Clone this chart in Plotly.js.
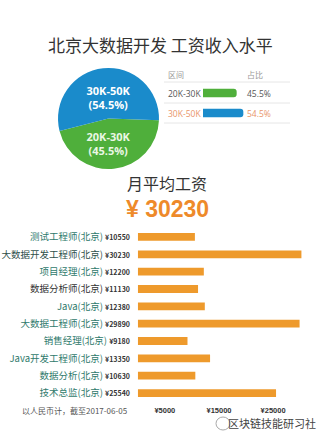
<!DOCTYPE html>
<html>
<head>
<meta charset="utf-8">
<script src="https://cdn.plot.ly/plotly-3.0.1.min.js"></script>
<style>html,body{margin:0;padding:0;background:#fff;}#chart{width:326px;height:434px;}</style>
</head>
<body>
<div id="chart"></div>
<script>
// Salary range split (pie + mini legend bars)
const rangeLabels = ['20K-30K', '30K-50K'];
const rangeShares = [45.5, 54.5];
const rangeColors = ['#4FAF3B', '#1A8BCB'];

// Monthly average salary by job
const jobs = ['测试工程师(北京)', '大数据开发工程师(北京)', '项目经理(北京)', '数据分析师(北京)', 'Java(北京)',
              '大数据工程师(北京)', '销售经理(北京)', 'Java开发工程师(北京)', '数据分析(北京)', '技术总监(北京)'];
const salaries = [10550, 30230, 12200, 11130, 12380, 29890, 9180, 13350, 10630, 25540];
const jobLabelColors = ['#2F7A6C', '#2E4F4A', '#2F7A6C', '#333333', '#2F7A6C',
                        '#2F7A6C', '#2F7A6C', '#2F7A6C', '#2F7A6C', '#2F7A6C'];
const avgSalary = 30230;
const xTicks = [5000, 15000, 25000];

const W = 326, H = 434;
const px = x => x / W;
const py = y => 1 - y / H;

const jobTickText = jobs.map((j, i) =>
  `<span style="color:${jobLabelColors[i]}">${j}</span> <span style="font-size:7px;font-weight:bold;color:#333">¥${salaries[i]}</span>`);

const traces = [
  {
    type: 'pie',
    labels: rangeLabels,
    values: rangeShares,
    sort: false,
    direction: 'clockwise',
    rotation: 92,
    marker: {colors: rangeColors, line: {width: 0}},
    texttemplate: '%{label}<br>(%{percent:.1%})',
    textposition: 'inside',
    insidetextorientation: 'horizontal',
    textfont: {family: 'Open Sans, sans-serif', size: 11, weight: 'bold', color: ['#EAF7E4', '#FFFFFF']},
    domain: {x: [px(58), px(159)], y: [py(169), py(68)]},
    hoverinfo: 'none',
    showlegend: false
  },
  {
    type: 'bar',
    orientation: 'h',
    x: rangeShares,
    y: rangeLabels,
    xaxis: 'x2', yaxis: 'y2',
    width: 0.42,
    marker: {color: rangeColors, cornerradius: 3},
    hoverinfo: 'none',
    showlegend: false
  },
  {
    type: 'bar',
    orientation: 'h',
    x: salaries,
    y: jobs,
    width: 0.45,
    marker: {color: '#EE9A2C'},
    hoverinfo: 'none',
    showlegend: false
  }
];

function ann(text, x, y, xanchor, font, yref) {
  return {text: text, x: x, y: y, xref: 'paper', yref: yref || 'paper', xanchor: xanchor, yanchor: 'middle',
          showarrow: false, font: font};
}

const annotations = [
  ann('北京大数据开发 工资收入水平', px(160), py(45), 'center', {family: 'Noto Sans CJK SC', size: 17, color: '#333'}),
  ann('区间', px(166), py(74), 'left', {family: 'Noto Sans CJK SC', size: 8, color: '#999'}),
  ann('占比', px(245), py(74), 'left', {family: 'Noto Sans CJK SC', size: 8, color: '#999'}),
  ann('月平均工资', px(167), py(183), 'center', {family: 'Noto Sans CJK SC', size: 16, color: '#333'}),
  ann('¥ ' + avgSalary, px(167), py(209), 'center', {family: 'Liberation Sans, Arial, sans-serif', size: 23, weight: 'bold', color: '#EE8A2A'}),
  ann('以人民币计，截至2017-06-05', px(129), py(410), 'right', {family: 'Noto Sans CJK SC', size: 8, color: '#555'}),
  ann('区块链技能研习社', px(318), py(423), 'right', {family: 'Noto Sans CJK SC', size: 11, color: '#444'})
];
const rowTextColors = ['#555', '#E9956A'];
rangeLabels.forEach((l, i) => {
  annotations.push(ann(l, px(166), l, 'left', {family: 'Open Sans, sans-serif', size: 8.5, color: rowTextColors[i]}, 'y2'));
  annotations.push(ann(rangeShares[i] + '%', px(245), l, 'left', {family: 'Open Sans, sans-serif', size: 8.5, color: rowTextColors[i]}, 'y2'));
});

const shapes = [82, 103, 123].map(y => ({
  type: 'line', xref: 'paper', yref: 'paper', x0: px(164), x1: px(290), y0: py(y), y1: py(y),
  line: {color: '#E6E6E6', width: 1}
}));
shapes.push({type: 'circle', xref: 'paper', yref: 'paper', x0: px(216), x1: px(230), y0: py(430), y1: py(417),
  line: {color: '#AAA', width: 1}, fillcolor: 'rgba(0,0,0,0)'});

const layout = {
  width: W, height: H,
  margin: {l: 0, r: 0, t: 0, b: 0},
  paper_bgcolor: '#fff', plot_bgcolor: 'rgba(0,0,0,0)',
  showlegend: false,
  xaxis: {
    domain: [px(137.8), px(311)], range: [0, 32000],
    showgrid: false, zeroline: false, showline: false,
    tickvals: xTicks, ticktext: xTicks.map(v => '¥' + v),
    ticks: 'outside', ticklen: 1, tickcolor: 'rgba(0,0,0,0)',
    tickfont: {family: 'Liberation Sans, Arial, sans-serif', size: 7.5, weight: 'bold', color: '#333'},
    anchor: 'y'
  },
  yaxis: {
    domain: [py(401.7), py(228.3)], autorange: 'reversed',
    showgrid: false, zeroline: false, showline: false,
    tickvals: jobs, ticktext: jobTickText,
    ticks: 'outside', ticklen: 5, tickcolor: 'rgba(0,0,0,0)',
    tickfont: {family: 'Noto Sans CJK SC', size: 9.5, color: '#2F7A6C'},
    anchor: 'x'
  },
  xaxis2: {
    domain: [px(203), px(203 + 0.74 * 60)], range: [0, 60],
    visible: false, anchor: 'y2'
  },
  yaxis2: {
    domain: [py(123), py(83)], autorange: 'reversed',
    visible: false, anchor: 'x2'
  },
  annotations: annotations,
  shapes: shapes
};

Plotly.newPlot('chart', traces, layout, {displayModeBar: false, staticPlot: true});
</script>
</body>
</html>
